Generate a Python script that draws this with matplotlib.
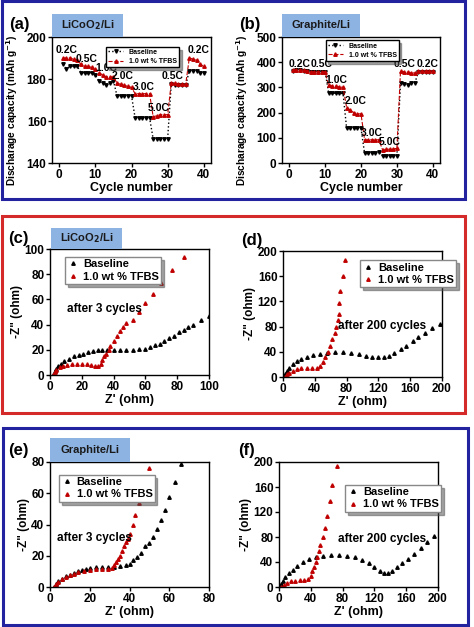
import matplotlib
matplotlib.use("Agg")
import matplotlib.pyplot as plt
from matplotlib.patches import Rectangle

plt.rcParams['font.family'] = ['Liberation Sans', 'DejaVu Sans']
plt.rcParams['font.weight'] = 'bold'
plt.rcParams['axes.labelweight'] = 'bold'

cycles = list(range(1, 41))
a_base = [187,185,186,186,186, 183,183,183,183,182, 179,178,177,178,179, 172,172,172,172,172,
          161.5,161.5,161.5,161.5,161.5, 151.5,151.5,151.5,151.5,151.5, 177.5,177,177,177,177, 184,184,184,183,183]
a_tfbs = [190,190,190,189.5,189, 187,186,186,185.5,185, 183,182,181,181,181, 178,177.5,177,176.5,176,
          173,173,173,173,173, 162,162.5,163,163,163, 178,178,177.5,177.5,177.5, 190,189.5,189,187,186]
b_base = [365,368,368,367,365, 362,362,362,362,362, 278,277,277,276,276, 137,137,138,138,138,
          38,38,40,40,42, 28,28,29,29,29, 318,314,310,318,318, 362,362,362,362,362]
b_tfbs = [370,370,370,368,367, 362,362,362,362,362, 308,306,304,302,300, 220,210,200,195,195,
          92,92,92,92,92, 52,54,55,56,58, 365,362,360,358,357, 365,365,365,365,365]
a_rates = [("0.2C",2,191.5),("0.5C",7.5,187),("1.0C",13,183),("2.0C",17.5,179),("3.0C",23.5,174),
           ("5.0C",27.5,164),("0.5C",31.5,179),("0.2C",38.5,191.5)]
b_rates = [("0.2C",3,375),("0.5C",9,375),("1.0C",13,310),("2.0C",18.5,225),("3.0C",23,100),
           ("5.0C",28,62),("0.5C",32,375),("0.2C",38.5,375)]

c_base_x = [2,3,4,5,7,9,12,15,18,21,24,27,30,33,36,40,44,48,52,56,60,63,66,69,72,75,78,81,84,87,90,95,100]
c_base_y = [0,3,5,7,9,11,13,15,16,17,18,19,19.5,20,20,20,20,20,20,20.5,21,22,23.5,25,27,29,31,34,36,38,40,44,47]
c_tfbs_x = [2,3,4,6,8,11,14,17,20,23,26,28,30,32,33,34,35,37,38,40,42,44,46,48,52,56,60,65,70,77,84]
c_tfbs_y = [0,2,4,6,7,8,8.5,9,9,8.5,8,7.5,7.5,9,12,15,17,20,23,27,31,35,38,41,44,50,57,64,73,83,94]

d_base_x = [2,3,5,8,12,17,23,30,38,46,55,65,75,85,95,105,112,120,127,133,140,148,155,163,170,178,188,198]
d_base_y = [0,5,10,15,20,25,29,32,35,37,38,39,39,38.5,37,34,32,31,31,33,38,45,50,57,63,70,78,84]
d_tfbs_x = [3,5,8,12,17,23,30,37,43,47,50,53,56,59,62,65,67,69,70,71,72,75,78]
d_tfbs_y = [0,4,7,10,12,13.5,14,14,15,18,24,32,40,50,60,70,80,90,100,117,137,160,185]

e_base_x = [2,3,4,6,8,10,12,14,16,18,20,23,26,29,32,35,38,40,42,44,46,48,50,52,54,56,58,60,63,66]
e_base_y = [0,2,4,5,7,8,9,10,11,11.5,12,12.5,13,13,13,13.5,14,15,17,19,22,26,28,32,37,43,49.5,57.5,67,79]
e_tfbs_x = [2,3,4,6,8,10,12,14,17,20,23,26,29,31,32,33,34,35,36,37,38,39,40,41.7,43,45,47,50]
e_tfbs_y = [0,2,3,5,6.5,7.5,8.5,9.5,10.5,11,11.5,11.5,11.5,12,14,16,18,20,23,26,29,31,34,40,46,54,64,76]

f_base_x = [2,3,5,8,12,17,23,30,38,46,55,65,75,85,95,105,113,120,127,132,137,142,148,155,162,170,178,186,195]
f_base_y = [0,5,10,16,22,28,34,40,45,48,50,51,51,50,48,44,38,32,26,23,22,25,32,38,45,53,62,72,82]
f_tfbs_x = [3,6,10,15,20,26,32,37,40,42,44,46,48,50,52,55,58,61,64,67,73]
f_tfbs_y = [0,4,7,9,10,11,11,13,18,25,32,40,48,57,67,80,95,113,137,163,193]

W, H = 474, 627
fig = plt.figure(figsize=(W/100, H/100), dpi=100)

def ax_px(x0, y0, x1, y1):
    return fig.add_axes([x0/W, 1-y1/H, (x1-x0)/W, (y1-y0)/H])

def frame(x0, y0, x1, y1, color):
    fig.patches.append(Rectangle((x0/W, 1-y1/H), (x1-x0)/W, (y1-y0)/H, transform=fig.transFigure,
                                 fill=False, edgecolor=color, linewidth=2.2))

def tag(x0, y0, x1, y1, text):
    fig.patches.append(Rectangle((x0/W, 1-y1/H), (x1-x0)/W, (y1-y0)/H, transform=fig.transFigure,
                                 facecolor='#8db3e2', edgecolor='none'))
    fig.text((x0+x1)/2/W, 1-(y0+y1)/2/H, text, ha='center', va='center', fontsize=8, weight='bold', color='#1a1a1a')

def plabel(x, y, t):
    fig.text(x/W, 1-y/H, t, fontsize=12, weight='bold', va='center')

frame(2, 1, 465, 199, '#2323a0')
frame(2, 216, 465, 413, '#d42a2a')
frame(3, 428, 468, 625, '#2323a0')

RED = '#c00000'

def style(ax, xl, yl, ysize=8.5):
    ax.set_xlabel(xl, fontsize=9, labelpad=1)
    ax.set_ylabel(yl, fontsize=ysize, labelpad=1)
    ax.tick_params(labelsize=8.5, length=3, width=1, pad=1)
    for s in ax.spines.values():
        s.set_linewidth(1)

def cap_axes(box, base, tfbs, ylim, yticks, rates, legpos):
    ax = ax_px(*box)
    ax.plot(cycles, base, ls=':', color='k', marker='v', ms=2.5, lw=1, label='Baseline')
    ax.plot(cycles, tfbs, ls='--', color=RED, marker='^', ms=2.5, lw=0.8, label='1.0 wt % TFBS')
    ax.set_xlim(-2, 42); ax.set_ylim(*ylim)
    ax.set_xticks([0,10,20,30,40]); ax.set_yticks(yticks)
    for t, x, y in rates:
        ax.text(x, y, t, fontsize=7.5, weight='bold', ha='center', va='bottom')
    ax.legend(loc='upper right', bbox_to_anchor=legpos, fontsize=5, frameon=True, fancybox=False,
              shadow=True, edgecolor='k', handlelength=2.2, borderpad=0.3, labelspacing=0.3)
    style(ax, 'Cycle number', 'Discharage capacity (mAh g$^{-1}$)', ysize=7.3)
    ax.yaxis.set_label_coords(-0.2, 0.42)

cap_axes((52, 37, 211, 163), a_base, a_tfbs, (140, 200), [140,160,180,200], a_rates, (0.82, 0.95))
cap_axes((282, 37, 440, 163), b_base, b_tfbs, (0, 500), [0,100,200,300,400,500], b_rates, (0.76, 1.0))

def eis(box, xb, yb, xt, yt, lim, ticks, txt, txy, legloc):
    ax = ax_px(*box)
    ax.plot(xb, yb, ls='none', marker='^', color='k', ms=2.5, label='Baseline')
    ax.plot(xt, yt, ls='none', marker='^', color=RED, ms=2.5, label='1.0 wt % TFBS')
    ax.set_xlim(0, lim); ax.set_ylim(0, lim)
    ax.set_xticks(ticks); ax.set_yticks(ticks)
    ax.text(txy[0], txy[1], txt, fontsize=8.5, weight='bold', va='center')
    ax.legend(loc='upper left', bbox_to_anchor=legloc, fontsize=8, frameon=True, fancybox=False,
              shadow=True, edgecolor='#888', handlelength=1, handletextpad=0.4, borderpad=0.2, labelspacing=0.2)
    style(ax, "Z' (ohm)", '-Z" (ohm)')

eis((50, 249, 209, 375), c_base_x, c_base_y, c_tfbs_x, c_tfbs_y, 100, [0,20,40,60,80,100],
    'after 3 cycles', (11, 52), (0.06, 0.98))
eis((283, 251, 442, 377), d_base_x, d_base_y, d_tfbs_x, d_tfbs_y, 200, [0,40,80,120,160,200],
    'after 200 cycles', (69, 81), (0.45, 0.97))
eis((50, 462, 209, 587), e_base_x, e_base_y, e_tfbs_x, e_tfbs_y, 80, [0,20,40,60,80],
    'after 3 cycles', (3.4, 31.5), (0.02, 0.94))
eis((279, 462, 438, 587), f_base_x, f_base_y, f_tfbs_x, f_tfbs_y, 200, [0,40,80,120,160,200],
    'after 200 cycles', (74, 77), (0.38, 0.86))

tag(52, 14, 123, 37, 'LiCoO$_2$/Li')
tag(282, 14, 360, 37, 'Graphite/Li')
tag(51, 228, 122, 249, 'LiCoO$_2$/Li')
tag(50, 438, 130, 462, 'Graphite/Li')

plabel(9, 24, '(a)'); plabel(239, 24, '(b)')
plabel(8, 238, '(c)'); plabel(241, 240, '(d)')
plabel(8, 450, '(e)'); plabel(238, 450, '(f)')

fig.savefig('out.png', dpi=100)
